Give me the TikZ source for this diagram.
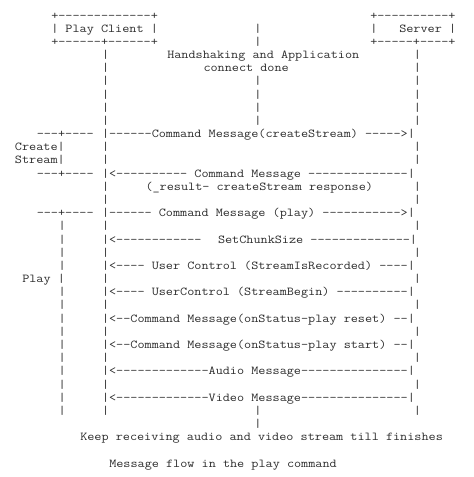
\documentclass[tikz,border=0pt]{standalone}
\usepackage{fontspec}
\newfontfamily\asciifont[FakeStretch=1.143]{Latin Modern Mono}
\definecolor{ink}{RGB}{45,45,45}
\tikzset{seg/.style={anchor=base west,inner sep=0pt,outer sep=0pt,text=ink,
  font=\asciifont\fontsize{12.08}{13}\selectfont}}
\newcommand\seg[4]{\node[seg] (#1) at ({15+#3*7.25},{-19-#2*13.18}) {#4};}
\begin{document}
\begin{tikzpicture}[x=1pt,y=1pt]
\fill[white] (0,0) rectangle (474,-477);
\useasboundingbox (0,0) rectangle (474,-477);
% boxes
\seg{cbtop}{0}{5}{+-------------+}
\seg{sbtop}{0}{49}{+----------+}
\seg{cbmid}{1}{5}{| Play Client |}
\seg{sbmidl}{1}{49}{|}
\seg{sbmid}{1}{53}{Server |}
\seg{cbbot}{2}{5}{+------+------+}
\seg{sbbot}{2}{49}{+-----+----+}
% lifelines
\foreach \r in {3,4,5,6,7,8,10,11,13,14,16,18,20,22,24,26,28,30}{
  \seg{cl\r}{\r}{12}{|}
  \seg{sl\r}{\r}{55}{|}
}
\foreach \r in {1,2,5,6,7,8,30,31}{
  \seg{ml\r}{\r}{33}{|}
}
\foreach \r in {16,17,18,19,21,22,23,24,25,26,27,28,29,30}{
  \seg{pl\r}{\r}{6}{|}
}
% texts
\seg{hs}{3}{21}{Handshaking and Application}
\seg{cd}{4}{26}{connect done}
\seg{b1}{9}{3}{---+----}
\seg{m1}{9}{12}{|------Command Message(createStream) ----->|}
\seg{cr}{10}{0}{Create|}
\seg{st}{11}{0}{Stream|}
\seg{b2}{12}{3}{---+----}
\seg{m2}{12}{12}{|<---------- Command Message --------------|}
\seg{m2b}{13}{18}{(\_result- createStream response)}
\seg{b3}{15}{3}{---+----}
\seg{m3}{15}{12}{|------ Command Message (play) ----------->|}
\seg{m4a}{17}{12}{|<------------}
\seg{m4b}{17}{28}{SetChunkSize --------------|}
\seg{m5}{19}{12}{|<---- User Control (StreamIsRecorded) ----|}
\seg{pl}{20}{1}{Play |}
\seg{m6}{21}{12}{|<---- UserControl (StreamBegin) ----------|}
\seg{m7}{23}{12}{|<--Command Message(onStatus-play reset) --|}
\seg{m8}{25}{12}{|<--Command Message(onStatus-play start) --|}
\seg{m9}{27}{12}{|<-------------Audio Message---------------|}
\seg{m10}{29}{12}{|<-------------Video Message---------------|}
\seg{kr}{32}{9}{Keep receiving audio and video stream till finishes}
\seg{cap}{34}{13}{Message flow in the play command}
\end{tikzpicture}
\end{document}
